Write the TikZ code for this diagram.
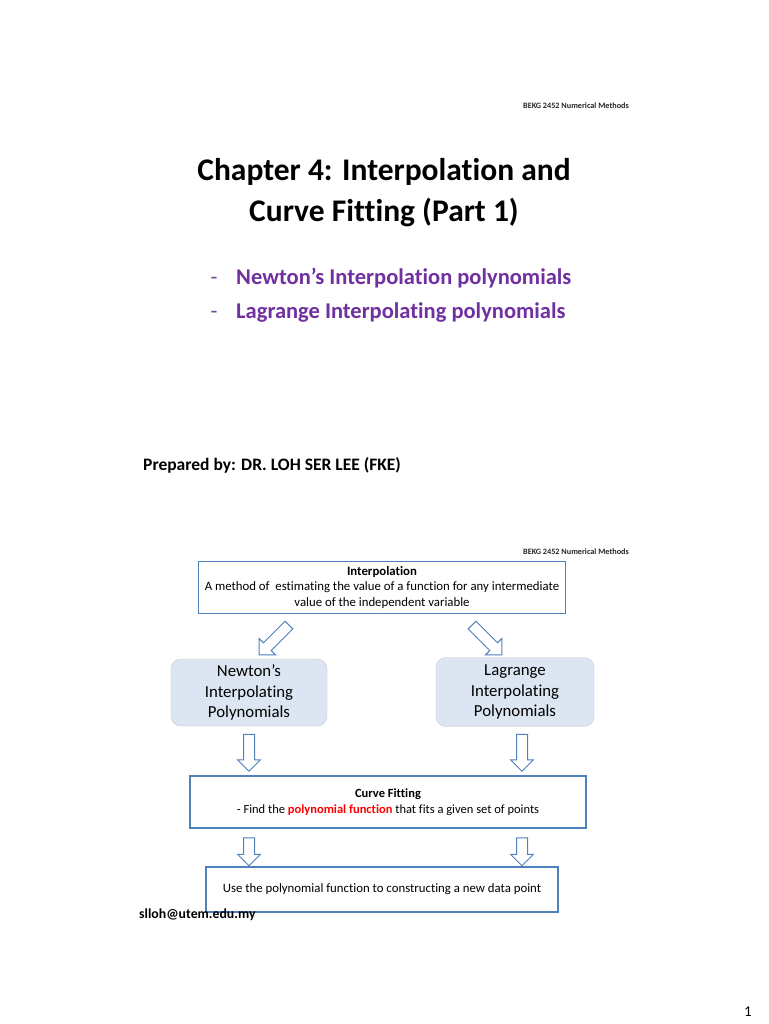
\documentclass[tikz,border=0pt]{standalone}
\usepackage{fontspec}
\setmainfont{Carlito}[Ligatures=NoCommon]
\usetikzlibrary{shapes.arrows}
\definecolor{boxblue}{HTML}{4F81BD}
\definecolor{softblue}{HTML}{DCE6F2}
\definecolor{softgray}{HTML}{C8C8C8}
\definecolor{titlepurple}{HTML}{7030A0}
\tikzset{
  framebox/.style={draw=boxblue, line width=1.1pt, align=center, inner sep=0pt},
  methodbox/.style={draw=softgray, fill=softblue, rounded corners=10pt, align=center, inner sep=0pt,
    font=\fontsize{16.8}{20.5}\selectfont},
  hollowarrow/.style={single arrow, draw=boxblue, line width=1pt, fill=white, inner xsep=0pt, inner ysep=5pt,
    minimum width=22pt, single arrow head extend=6pt, single arrow head indent=0pt},
  header/.style={font=\fontsize{8.2}{9}\selectfont\bfseries, text=black!85},
  bullet/.style={font=\fontsize{22.5}{26}\selectfont\bfseries, text=titlepurple, anchor=base west, inner sep=0pt},
  bulletdash/.style={font=\fontsize{22.5}{26}\selectfont, text=titlepurple!70!gray, anchor=base, inner sep=0pt}
}
\begin{document}
\begin{tikzpicture}[x=1pt,y=-1pt]
    \useasboundingbox[fill=white] (0,0) rectangle (768,1024);
    % title page
    \node[header] (head1) at (576,106) {BEKG 2452 Numerical Methods};
    \node[font=\fontsize{31.5}{41}\selectfont\bfseries, align=center] (title) at (384,193)
        {Chapter 4: Interpolation and\\Curve Fitting (Part 1)};
    \node[bulletdash] (dash1) at (214,284) {-};
    \node[bulletdash] (dash2) at (214,318) {-};
    \node[bullet] (newt) at (236,284) {Newton’s Interpolation polynomials};
    \node[bullet] (lagr) at (236,318) {Lagrange Interpolating polynomials};
    \node[font=\fontsize{17.5}{20}\selectfont\bfseries, anchor=west, inner sep=0pt] (prep) at (143,465)
        {Prepared by: DR. LOH SER LEE (FKE)};
    % flow chart
    \node[header] (head2) at (576,552) {BEKG 2452 Numerical Methods};
    \node[framebox, minimum width=367pt, minimum height=52pt, font=\fontsize{12.8}{15.5}\selectfont] (interp) at (382,587.5)
        {\textbf{Interpolation}\\A method of\ \ estimating the value of a function for any intermediate\\value of the independent variable};
    \node[methodbox, minimum width=156pt, minimum height=67pt] (newton) at (249,692.5)
        {Newton’s\\Interpolating\\Polynomials};
    \node[methodbox, minimum width=158pt, minimum height=69pt] (lagrange) at (515,692)
        {Lagrange\\Interpolating\\Polynomials};
    \node[framebox, minimum width=396pt, minimum height=52pt, font=\fontsize{12.5}{16}\selectfont] (fit) at (388,802)
        {\textbf{Curve Fitting}\\- Find the \textcolor{red}{\textbf{polynomial function}} that fits a given set of points};
    \node[framebox, minimum width=352pt, minimum height=45pt, font=\fontsize{12.8}{14}\selectfont] (use) at (382,889.5)
        {Use the polynomial function to constructing a new data point};
    \node[hollowarrow, minimum height=42pt, rotate=-135] (arrowNL) at (276,638) {};
    \node[hollowarrow, minimum height=42pt, rotate=-45] (arrowNR) at (485,638) {};
    \node[hollowarrow, minimum height=37pt, rotate=-90] (arrowFL) at (249,750) {};
    \node[hollowarrow, minimum height=37pt, rotate=-90] (arrowFR) at (522,750) {};
    \node[hollowarrow, minimum height=28pt, rotate=-90] (arrowUL) at (249,849) {};
    \node[hollowarrow, minimum height=28pt, rotate=-90] (arrowUR) at (522,849) {};
    \node[font=\fontsize{13.8}{16}\selectfont\bfseries, anchor=west, inner sep=0pt] (mail) at (139,915) {slloh@utem.edu.my};
    \node[font=\fontsize{15}{17}\selectfont] (page) at (748,1012) {1};
\end{tikzpicture}
\end{document}
